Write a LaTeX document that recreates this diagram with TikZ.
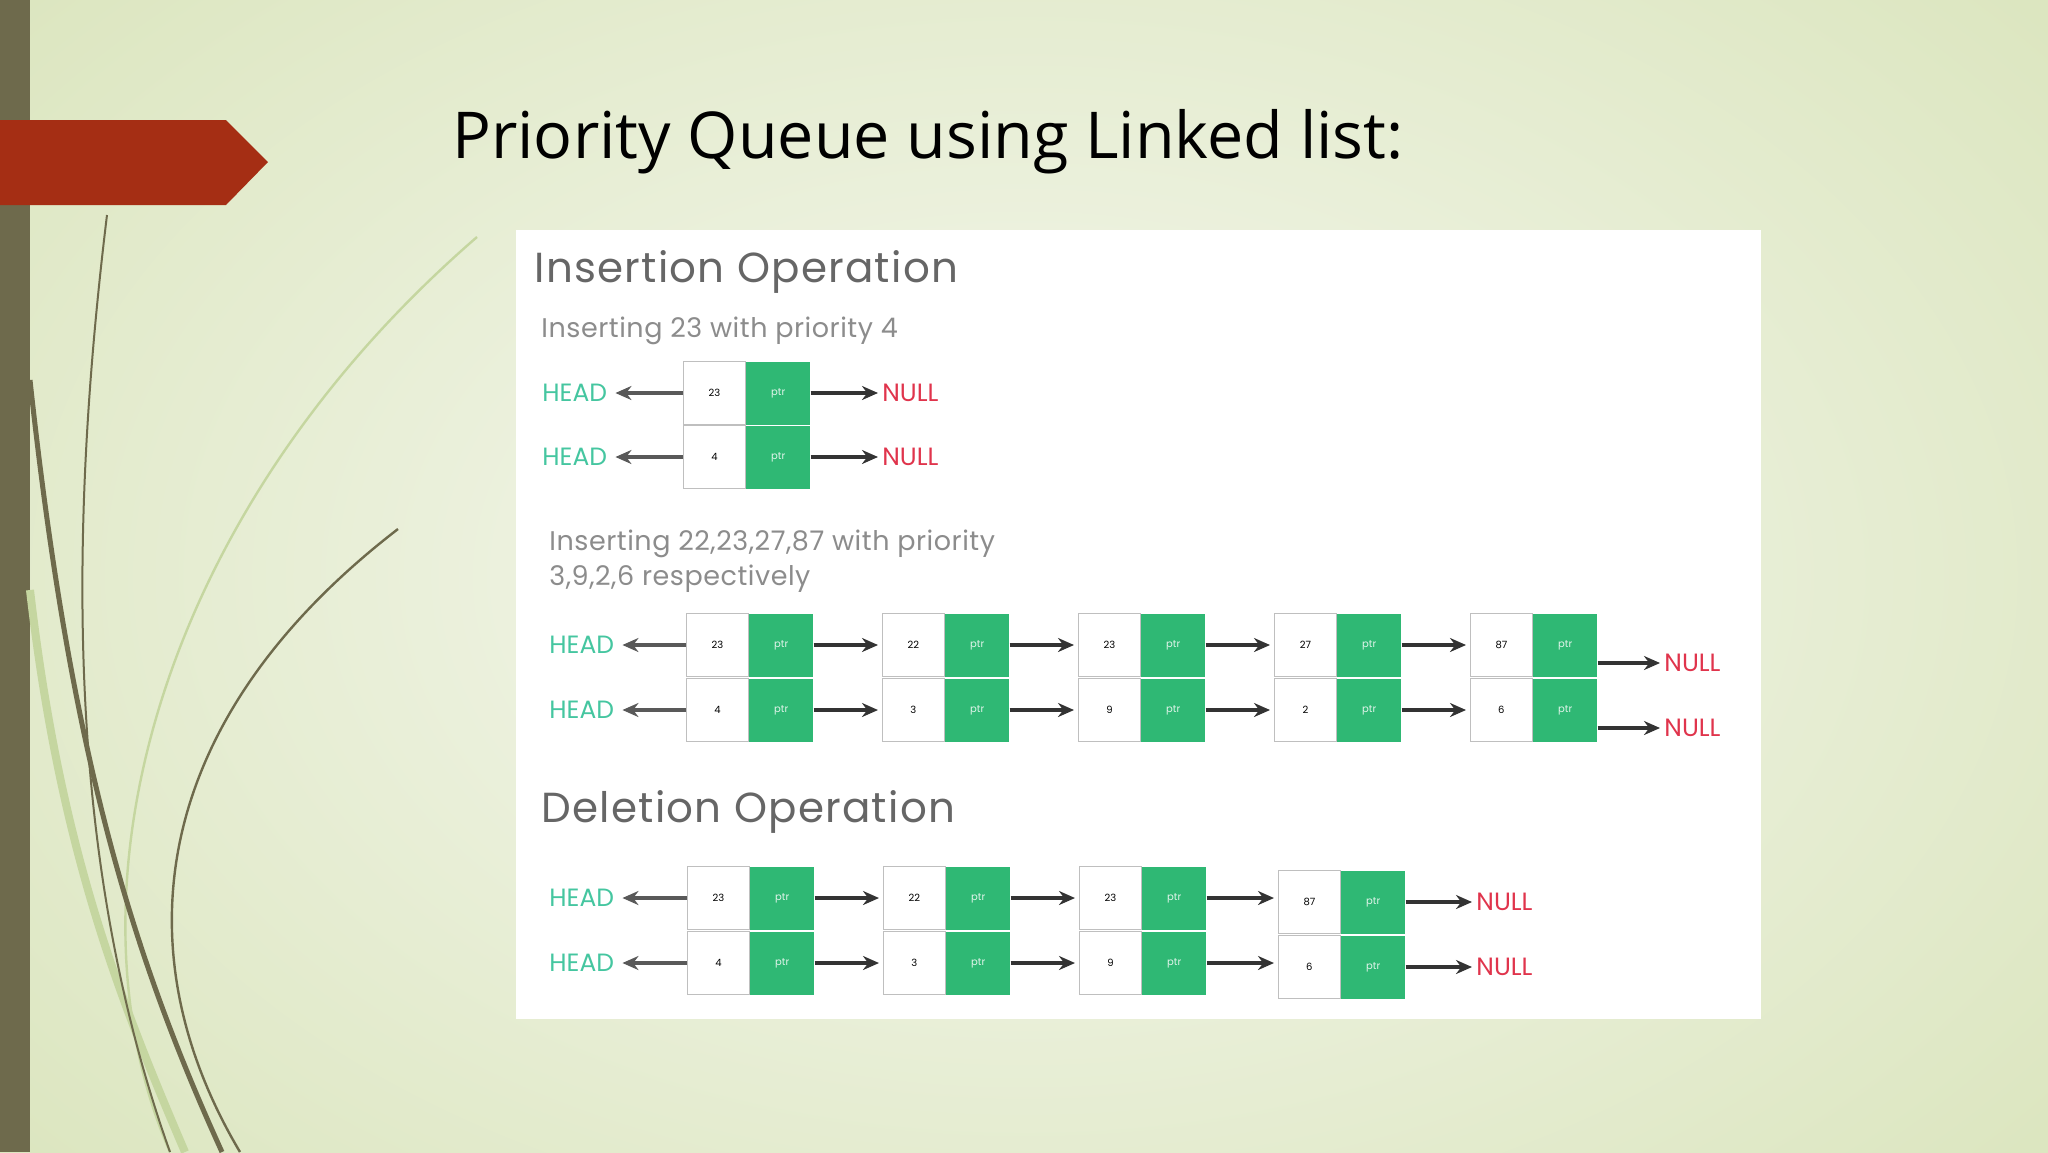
\documentclass[tikz,border=0pt]{standalone}
\usepackage{fontspec}
\setmainfont{Open Sans}
\newfontfamily\gfg{Poppins}
\usetikzlibrary{positioning,arrows.meta}
\definecolor{slidebg}{HTML}{DCE6C0}
\definecolor{slideglow}{HTML}{F6F8F0}
\definecolor{barolive}{HTML}{6E6A4C}
\definecolor{tagred}{HTML}{A52E14}
\definecolor{ptrgreen}{HTML}{2FB874}
\definecolor{headteal}{HTML}{45C6A0}
\definecolor{nullred}{HTML}{E0344C}
\definecolor{leafgreen}{HTML}{C5D6A0}
\tikzset{
  valcell/.style={draw=black!25,fill=white,minimum width=31pt,minimum height=31.5pt,
    inner sep=0pt,font=\gfg\fontsize{5}{6}\selectfont,anchor=west},
  ptrcell/.style={fill=ptrgreen,minimum width=32pt,minimum height=31.5pt,inner sep=0pt,
    text=white!85!ptrgreen,font=\gfg\fontsize{5}{6}\selectfont,anchor=west},
  headlbl/.style={text=headteal,font=\gfg\fontsize{12.5}{14}\selectfont,anchor=west,inner sep=0pt},
  nulllbl/.style={text=nullred,font=\gfg\fontsize{12.5}{14}\selectfont,anchor=west,inner sep=0pt},
  link/.style={-{Stealth[length=8pt,width=7pt]},line width=1.6pt,black!80,shorten >=2pt},
  headlink/.style={-{Stealth[length=8pt,width=7pt]},line width=1.6pt,black!65,shorten >=4pt}
}
\begin{document}
\begin{tikzpicture}[x=0.5pt,y=-0.5pt]
% Background
\useasboundingbox (0,0) rectangle (2048,1152);
\shade[inner color=slideglow,outer color=slidebg] (-300,-300) rectangle (2348,1452);
\fill[barolive] (0,0) rectangle (30,1152);

% Decorative curves
\draw[leafgreen,line width=1.2pt] (477,237) .. controls (150,520) and (60,900) .. (170,1152);
\draw[leafgreen,line width=4pt] (30,590) .. controls (60,850) and (120,1000) .. (185,1152);
\draw[barolive,line width=1.2pt] (398,529) .. controls (150,720) and (120,950) .. (240,1152);
\draw[barolive,line width=1pt] (107,215) .. controls (60,600) and (80,900) .. (170,1152);
\draw[barolive,line width=2.5pt] (30,380) .. controls (70,750) and (130,950) .. (222,1152);

% Title tag
\fill[tagred] (0,120) -- (226,120) -- (268,162) -- (226,205) -- (0,205) -- cycle;
\node[anchor=west,inner sep=0pt,font=\fontsize{32.3}{40}\selectfont] (title) at (452,142)
  {Priority Queue using Linked list:};

% Panel
\fill[white] (516,230) rectangle (1761,1019);
\node[anchor=west,inner sep=0pt,text=black!60,font=\gfg\fontsize{21}{24}\selectfont]
  (insop) at (534,272) {\addfontfeature{LetterSpace=3}Insertion Operation};
\node[anchor=west,inner sep=0pt,text=black!45,font=\gfg\fontsize{13.5}{14}\selectfont]
  (ins1) at (541,331) {\addfontfeature{LetterSpace=2}Inserting 23 with priority 4};
\node[anchor=north west,inner sep=0pt,text=black!45,align=left,
  font=\gfg\fontsize{13.5}{17.5}\selectfont] (ins2) at (549,530)
  {\addfontfeature{LetterSpace=2}Inserting 22,23,27,87 with priority\\
   \addfontfeature{LetterSpace=2}3,9,2,6 respectively};
\node[anchor=west,inner sep=0pt,text=black!60,font=\gfg\fontsize{21}{24}\selectfont]
  (delop) at (541,812) {\addfontfeature{LetterSpace=3}Deletion Operation};

% Single node rows
\foreach \r/\v/\y in {a/23/393,b/4/457}{
  \node[valcell] (\r1v) at (683,\y) {\v};
  \node[ptrcell] (\r1p) at (\r1v.east) {ptr};
  \node[headlbl] (\r head) at (542,\y) {HEAD};
  \node[nulllbl] (\r null) at (882,\y) {NULL};
  \draw[headlink] (\r1v.west) -- (\r head.east);
  \draw[link] (\r1p.east) -- (\r null.west);
}

% Five node rows
\foreach \r/\y/\vals in {c/645/{23,22,23,27,87},d/710/{4,3,9,2,6}}{
  \node[headlbl] (\r head) at (549,\y) {HEAD};
  \foreach \v [count=\i] in \vals{
    \node[valcell] (\r\i v) at ({686+(\i-1)*196},\y) {\v};
    \node[ptrcell] (\r\i p) at (\r\i v.east) {ptr};
  }
  \draw[headlink] (\r1v.west) -- (\r head.east);
  \foreach \i [evaluate=\i as \j using int(\i+1)] in {1,...,4}
    \draw[link] (\r\i p.east) -- (\r\j v.west);
  \node[nulllbl] (\r null) at (1664,\y+18) {NULL};
  \draw[link] (\r5p.east |- \r null) -- (\r null.west);
}

% Deletion rows
\foreach \r/\y/\vals in {e/898/{23,22,23,87},f/963/{4,3,9,6}}{
  \node[headlbl] (\r head) at (549,\y) {HEAD};
  \foreach \v [count=\i] in \vals{
    \node[valcell] (\r\i v) at ({687+(\i-1)*196+(\i>3)*3},{\y+(\i>3)*4}) {\v};
    \node[ptrcell] (\r\i p) at (\r\i v.east) {ptr};
  }
  \draw[headlink] (\r1v.west) -- (\r head.east);
  \foreach \i [evaluate=\i as \j using int(\i+1)] in {1,...,3}
    \draw[link] (\r\i p.east) -- (\r\j v.west |- \r\i p.east);
  \node[nulllbl] (\r null) at (1476,\y+4) {NULL};
  \draw[link] (\r4p.east) -- (\r null.west);
}
\end{tikzpicture}
\end{document}
